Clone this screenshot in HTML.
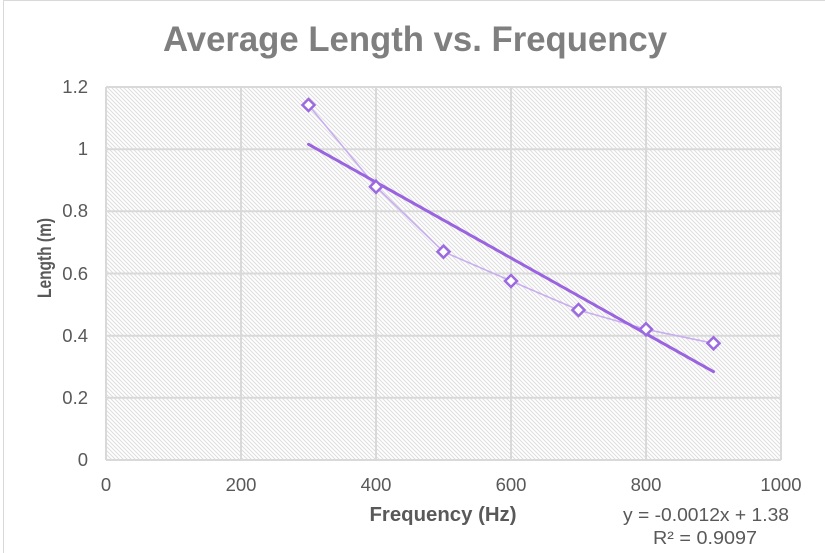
<!DOCTYPE html>
<html><head><meta charset="utf-8"><style>
html,body{margin:0;padding:0;background:#fff;width:825px;height:553px;overflow:hidden}
svg{display:block}
text{font-family:"Liberation Sans",sans-serif}
</style></head><body>
<svg width="825" height="553" viewBox="0 0 825 553" xmlns="http://www.w3.org/2000/svg">
<defs>
<pattern id="h" patternUnits="userSpaceOnUse" width="4" height="4">
<rect width="4" height="4" fill="#fff"/>
<path d="M-1,-1 L5,5 M-1,3 L1,5 M3,-1 L5,1" stroke="#dedede" stroke-width="1"/>
</pattern>
</defs>
<rect x="0" y="0" width="825" height="553" fill="#fff"/>
<path d="M3.5,553 V0.5 H825" fill="none" stroke="#d9d9d9" stroke-width="1"/>
<text x="415" y="51" text-anchor="middle" font-size="35" font-weight="bold" fill="#7f7f7f" textLength="504" lengthAdjust="spacingAndGlyphs">Average Length vs. Frequency</text>
<rect x="106" y="87" width="675" height="373" fill="url(#h)"/>
<g stroke="#d9d9d9" stroke-width="2" fill="none">
<path d="M106,87 H781 M106,149.2 H781 M106,211.3 H781 M106,273.5 H781 M106,335.7 H781 M106,397.8 H781 M106,460 H781"/>
<path d="M106,87 V460 M241,87 V460 M376,87 V460 M511,87 V460 M646,87 V460 M781,87 V460"/>
</g>
<g font-size="18.5" fill="#595959" text-anchor="end">
<text x="88" y="93">1.2</text>
<text x="88" y="155">1</text>
<text x="88" y="217">0.8</text>
<text x="88" y="280">0.6</text>
<text x="88" y="342">0.4</text>
<text x="88" y="404">0.2</text>
<text x="88" y="466">0</text>
</g>
<g font-size="18.5" fill="#595959" text-anchor="middle">
<text x="106" y="491">0</text>
<text x="241" y="491">200</text>
<text x="376" y="491">400</text>
<text x="511" y="491">600</text>
<text x="646" y="491">800</text>
<text x="781" y="491">1000</text>
</g>
<text x="443" y="521" text-anchor="middle" font-size="20" font-weight="bold" fill="#595959" textLength="147" lengthAdjust="spacingAndGlyphs">Frequency (Hz)</text>
<text transform="translate(51,258) rotate(-90)" text-anchor="middle" font-size="19" font-weight="bold" fill="#595959" textLength="80" lengthAdjust="spacingAndGlyphs">Length (m)</text>
<polyline points="308.5,105 376,186.7 443.5,251.7 511,281 578.5,310 646,329.3 713.5,343.3" fill="none" stroke="#c9aef0" stroke-width="1.6" stroke-linejoin="round"/>
<line x1="308.5" y1="144.3" x2="713.5" y2="371.7" stroke="#9a63e0" stroke-width="3" stroke-linecap="round"/>
<g fill="#fff" stroke="#9b6ae0" stroke-width="2.5">
<path d="M308.5,99 L314.5,105 L308.5,111 L302.5,105 Z"/>
<path d="M376,180.7 L382,186.7 L376,192.7 L370,186.7 Z"/>
<path d="M443.5,245.7 L449.5,251.7 L443.5,257.7 L437.5,251.7 Z"/>
<path d="M511,275 L517,281 L511,287 L505,281 Z"/>
<path d="M578.5,304 L584.5,310 L578.5,316 L572.5,310 Z"/>
<path d="M646,323.3 L652,329.3 L646,335.3 L640,329.3 Z"/>
<path d="M713.5,337.3 L719.5,343.3 L713.5,349.3 L707.5,343.3 Z"/>
</g>
<g font-size="18" fill="#595959" text-anchor="middle">
<text x="706" y="521" textLength="166" lengthAdjust="spacingAndGlyphs">y = -0.0012x + 1.38</text>
<text x="705" y="544" textLength="104" lengthAdjust="spacingAndGlyphs">R² = 0.9097</text>
</g>
</svg>
</body></html>
